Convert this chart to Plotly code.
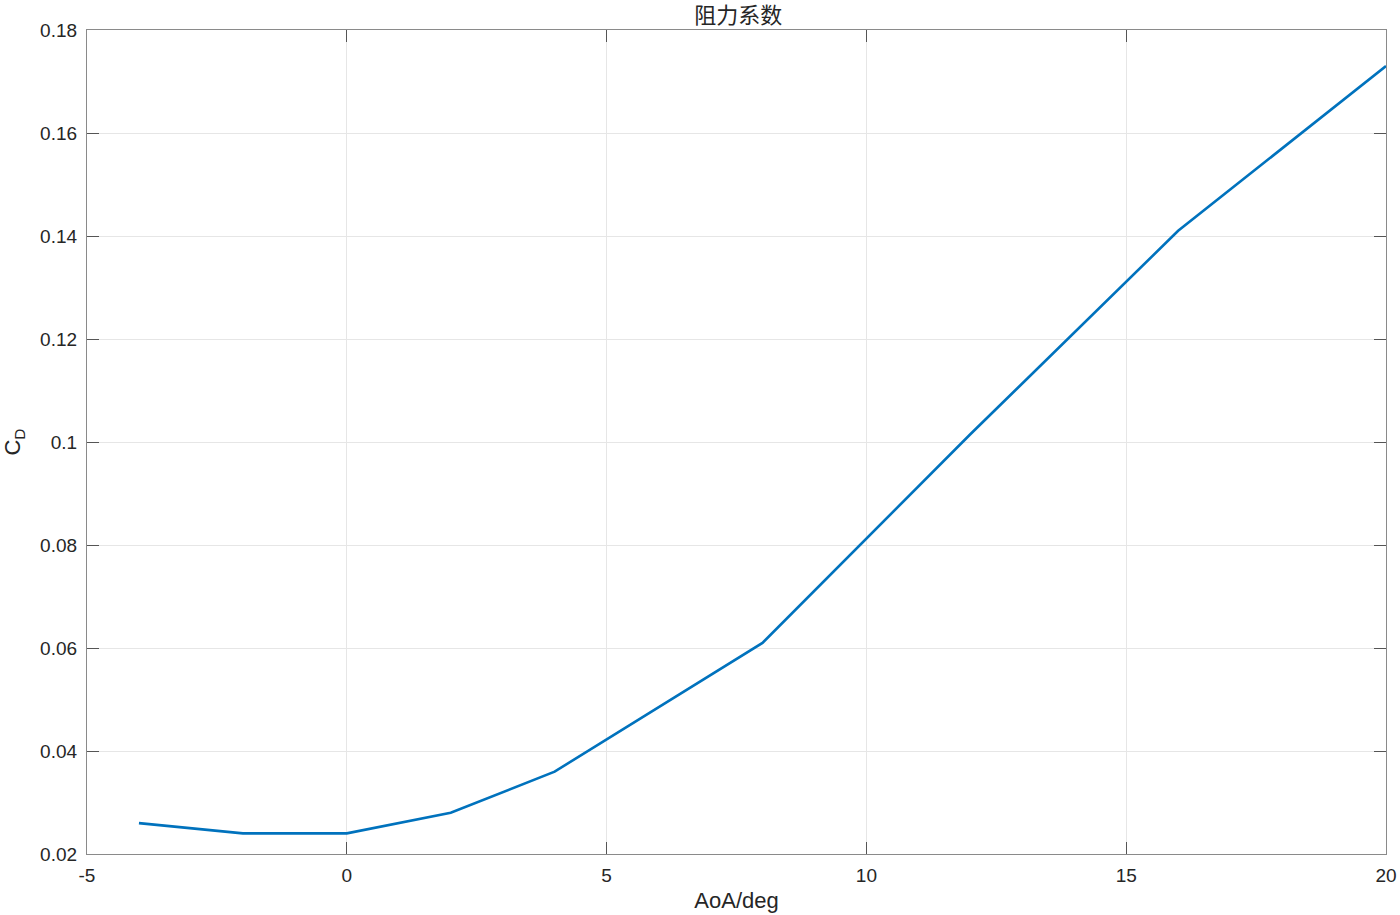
import plotly.graph_objects as go

aoa = [-4, -2, 0, 2, 4, 8, 12, 16, 20]
cd = [0.026, 0.024, 0.024, 0.028, 0.036, 0.061, 0.1015, 0.141, 0.173]

x_ticks = [-5, 0, 5, 10, 15, 20]
x_ticktext = ["-5", "0", "5", "10", "15", "20"]
y_ticks = [0.02, 0.04, 0.06, 0.08, 0.10, 0.12, 0.14, 0.16, 0.18]
y_ticktext = ["0.02", "0.04", "0.06", "0.08", "0.1", "0.12", "0.14", "0.16", "0.18"]

font_family = "Arial, Liberation Sans, Noto Sans CJK SC, sans-serif"

fig = go.Figure()
fig.add_trace(go.Scatter(x=aoa, y=cd, mode="lines",
                         line=dict(color="#0072BD", width=2.6),
                         showlegend=False))

axis_common = dict(
    showline=True, linecolor="#8a8a8a", linewidth=1.3, mirror="allticks",
    ticks="inside", ticklen=12, tickcolor="#555555", tickwidth=1,
    showgrid=True, gridcolor="#e6e6e6", gridwidth=1,
    zeroline=False, automargin=False,
    tickfont=dict(family=font_family, size=19, color="#262626"),
)

fig.update_xaxes(range=[-5, 20], tickvals=x_ticks, ticktext=x_ticktext,
                 ticklabelstandoff=4,
                 title=dict(text="AoA/deg", font=dict(family=font_family, size=22, color="#262626"), standoff=7),
                 **axis_common)
fig.update_yaxes(range=[0.02, 0.18], tickvals=y_ticks, ticktext=y_ticktext,
                 ticklabelstandoff=5,
                 title=dict(text="C<sub>D</sub>", font=dict(family=font_family, size=22, color="#262626"), standoff=14),
                 **axis_common)

fig.update_layout(
    width=1400, height=915,
    margin=dict(l=87, r=14, t=30, b=61),
    plot_bgcolor="white", paper_bgcolor="white",
    title=dict(text="阻力系数", x=0.5273, xanchor="center", y=1 - 15 / 915, yanchor="middle",
               yref="container",
               font=dict(family="Noto Sans CJK SC, sans-serif", size=22, color="#262626")),
)

fig.write_html(
    "out.html",
    config={"displayModeBar": False},
    post_script=("document.documentElement.style.margin='0';"
                 "document.documentElement.style.overflow='hidden';"
                 "document.body.style.margin='0';"
                 "document.body.style.overflow='hidden';"),
)
